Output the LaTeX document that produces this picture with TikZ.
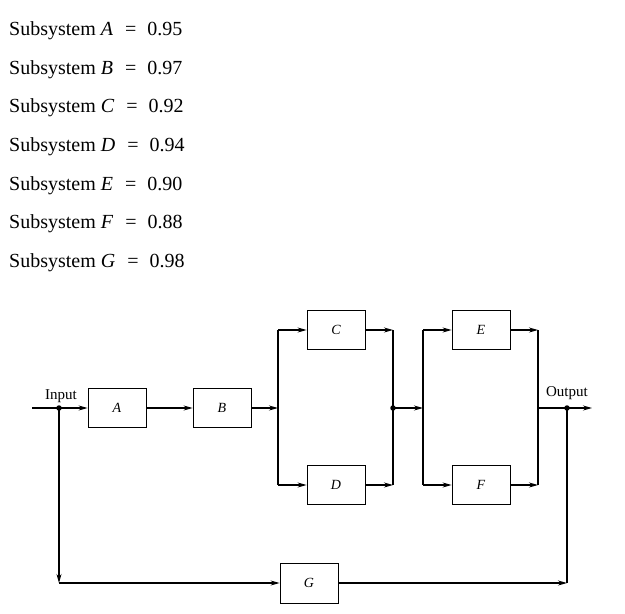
\documentclass[tikz,border=0pt]{standalone}
\usepackage{fontspec}
\setmainfont{Liberation Serif}
\usetikzlibrary{arrows.meta}

\begin{document}
\begin{tikzpicture}[x=1pt,y=-1pt,
    block/.style={draw, line width=0.8pt, minimum width=58pt, minimum height=39pt,
      inner sep=0pt, font=\fontsize{14}{16}\selectfont\itshape},
    flow/.style={line width=1.2pt},
    tip/.style={line width=1.2pt, -{Stealth[length=9pt,width=5pt]}},
    spot/.style={circle, fill, inner sep=0pt, minimum size=5.5pt},
    tag/.style={font=\fontsize{15}{17}\selectfont, inner sep=0pt}]
    \useasboundingbox (0,0) rectangle (625,614);

    % reliabilities
    \foreach \s/\r [count=\i from 0] in {A/0.95,B/0.97,C/0.92,D/0.94,E/0.90,F/0.88,G/0.98}
        \node[anchor=west, inner sep=0pt, font=\fontsize{20}{23}\selectfont]
            (rel\s) at (9,31+38.6*\i) {Subsystem \textit{\s}\hspace{12pt}=\hspace{11pt}\r};

    % blocks
    \node[block] (A) at (117,408) {A};
    \node[block] (B) at (222,408) {B};
    \node[block] (C) at (336,330) {C};
    \node[block] (D) at (336,485) {D};
    \node[block] (E) at (481,330) {E};
    \node[block] (F) at (481,485) {F};
    \node[block, minimum height=40pt] (G) at (309,583) {G};

    % junctions
    \coordinate (in) at (32,408);
    \coordinate (ji) at (59,408);
    \coordinate (s1) at (278,408);
    \coordinate (m1) at (393,408);
    \coordinate (s2) at (423,408);
    \coordinate (m2) at (538,408);
    \coordinate (jo) at (567,408);
    \coordinate (out) at (592,408);
    \coordinate (gl) at (59,583);
    \coordinate (gr) at (567,583);

    \node[tag] (input) at (61,396) {Input};
    \node[tag] (output) at (567,393) {Output};

    % series part
    \draw[tip] (in) -- (A.west);
    \draw[tip] (A.east) -- (B.west);
    \draw[tip] (B.east) -- (s1);

    % first parallel pair
    \draw[flow] (s1 |- C) -- (s1 |- D);
    \draw[tip] (s1 |- C) -- (C.west);
    \draw[tip] (s1 |- D) -- (D.west);
    \draw[tip] (C.east) -- (m1 |- C);
    \draw[tip] (D.east) -- (m1 |- D);
    \draw[flow] (m1 |- C) -- (m1 |- D);
    \draw[tip] (m1) -- (s2);

    % second parallel pair
    \draw[flow] (s2 |- E) -- (s2 |- F);
    \draw[tip] (s2 |- E) -- (E.west);
    \draw[tip] (s2 |- F) -- (F.west);
    \draw[tip] (E.east) -- (m2 |- E);
    \draw[tip] (F.east) -- (m2 |- F);
    \draw[flow] (m2 |- E) -- (m2 |- F);
    \draw[tip] (m2) -- (out);

    % bypass through G
    \draw[tip] (ji) -- (gl);
    \draw[tip] (gl) -- (G.west);
    \draw[tip] (G.east) -- (gr);
    \draw[flow] (gr) -- (jo);

    \foreach \p in {ji,m1,jo}
        \node[spot] at (\p) {};
\end{tikzpicture}
\end{document}
